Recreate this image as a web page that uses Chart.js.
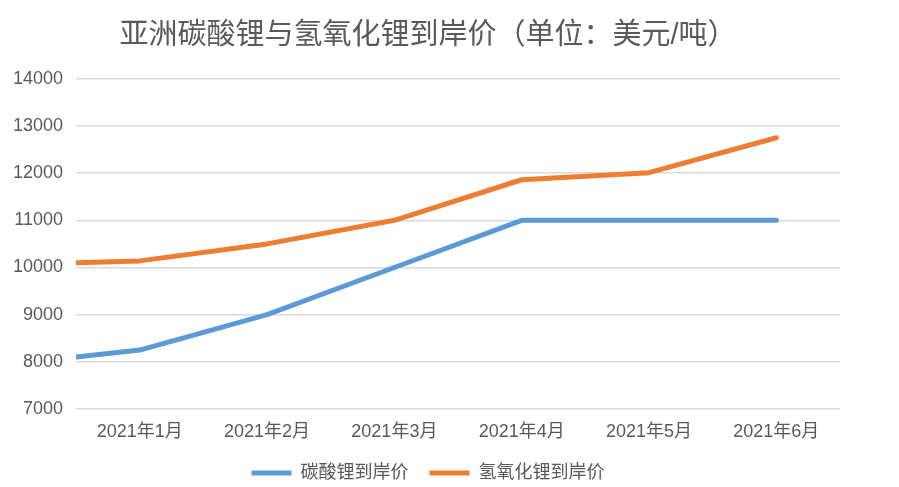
<!DOCTYPE html>
<html>
<head>
<meta charset="utf-8">
<script src="https://cdn.jsdelivr.net/npm/chart.js@4"></script>
<style>
  html, body { margin: 0; padding: 0; background: #fff; }
  #wrap { width: 899px; height: 487px; }
</style>
</head>
<body>
<div id="wrap"><canvas id="myChart" width="899" height="487"></canvas></div>
<script>
// data
const months = ['2021年1月', '2021年2月', '2021年3月', '2021年4月', '2021年5月', '2021年6月']
const carbonateStart = 8100
const carbonate = [8250, 9000, 10000, 11000, 11000, 11000]
const hydroxideStart = 10100
const hydroxide = [10140, 10500, 11000, 11860, 12010, 12750]
const yTicks = [7000, 8000, 9000, 10000, 11000, 12000, 13000, 14000]

// half-month slots: start value at slot 0, month i at slot 2i+1
function toPoints(start, values) {
  const pts = [{ x: 0, y: start }]
  values.forEach((v, i) => pts.push({ x: 2 * i + 1, y: v }))
  return pts
}

const font = "'Liberation Sans', 'Noto Sans CJK SC', sans-serif"
const textColor = '#595959'

const ctx = document.getElementById('myChart').getContext('2d')
new Chart(ctx, {
  type: 'line',
  data: {
    datasets: [
      {
        label: '碳酸锂到岸价',
        data: toPoints(carbonateStart, carbonate),
        borderColor: '#5b9bd5',
        backgroundColor: '#5b9bd5',
        borderWidth: 5,
        pointRadius: 0,
        tension: 0,
        borderCapStyle: 'round',
        borderJoinStyle: 'round',
      },
      {
        label: '氢氧化锂到岸价',
        data: toPoints(hydroxideStart, hydroxide),
        borderColor: '#ed7d31',
        backgroundColor: '#ed7d31',
        borderWidth: 5,
        pointRadius: 0,
        tension: 0,
        borderCapStyle: 'round',
        borderJoinStyle: 'round',
      },
    ],
  },
  options: {
    responsive: false,
    animation: false,
    layout: { padding: { left: 0, right: 43, top: 0, bottom: 0 } },
    plugins: {
      title: {
        display: true,
        text: '亚洲碳酸锂与氢氧化锂到岸价（单位：美元/吨）',
        color: textColor,
        font: { family: font, size: 29, weight: 'normal' },
        padding: { top: 19, bottom: 25 },
      },
      legend: {
        position: 'bottom',
        maxHeight: 44,
        labels: {
          color: textColor,
          font: { family: font, size: 18 },
          boxWidth: 40,
          boxHeight: 5,
          padding: 21,
          generateLabels(chart) {
            const items = Chart.defaults.plugins.legend.labels.generateLabels(chart)
            items.forEach(it => { it.lineWidth = 0 })
            return items
          },
        },
      },
      tooltip: { enabled: false },
    },
    scales: {
      x: {
        type: 'linear',
        min: 0,
        max: 12,
        grid: { display: false, drawTicks: false },
        border: { display: false },
        afterFit: axis => { axis.height = 34 },
        ticks: {
          stepSize: 1,
          autoSkip: false,
          maxRotation: 0,
          color: textColor,
          font: { family: font, size: 18 },
          padding: 12,
          callback: v => (v % 2 === 1 ? months[(v - 1) / 2] : ''),
        },
      },
      y: {
        min: yTicks[0],
        max: yTicks[yTicks.length - 1],
        grid: { color: '#d9d9d9', lineWidth: 1.5, drawTicks: false },
        border: { display: false },
        afterBuildTicks: axis => { axis.ticks = yTicks.map(v => ({ value: v })) },
        ticks: {
          color: textColor,
          font: { family: font, size: 18 },
          padding: 13,
          callback: v => String(v),
        },
      },
      // empty right-hand axis, only to keep space to the right of the plot
      y2: {
        position: 'right',
        grid: { display: false },
        border: { display: false },
        ticks: { display: false },
        afterFit: axis => { axis.width = 16 },
      },
    },
  },
})
</script>
</body>
</html>
